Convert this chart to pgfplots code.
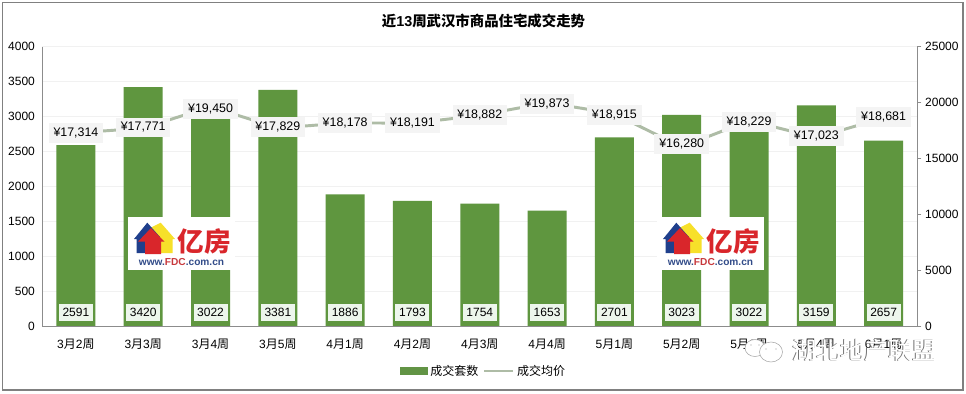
\documentclass[border=0pt]{standalone}
\usepackage{pgfplots}
\pgfplotsset{compat=1.18}
\usepackage{pgfplotstable}
\usepackage{fontspec}
\setmainfont{Liberation Sans}
\newfontfamily\cjk{Noto Sans CJK SC}
\newcommand{\wk}[2]{#1{\cjk 月}#2{\cjk 周}}
\definecolor{bargreen}{HTML}{5F963F}
\definecolor{linegray}{HTML}{AEBCA6}
\definecolor{gridc}{HTML}{F1F1F1}
\definecolor{axc}{HTML}{8C8C8C}
\definecolor{framec}{HTML}{808080}
\definecolor{lblbox}{HTML}{F4F4F4}
\definecolor{barbox}{HTML}{EDF6EC}
\definecolor{logoblue}{HTML}{1F3F8C}
\definecolor{logored}{HTML}{D9262B}
\definecolor{logoyellow}{HTML}{F7E02A}
\pgfplotstableread{
x units label
0 2591 2591
1 3420 3420
2 3022 3022
3 3381 3381
4 1886 1886
5 1793 1793
6 1754 1754
7 1653 1653
8 2701 2701
9 3023 3023
10 3022 3022
11 3159 3159
12 2657 2657
}\unitstable
\pgfplotstableread{
x price label
0 17314 ¥17,314
1 17771 ¥17,771
2 19450 ¥19,450
3 17829 ¥17,829
4 18178 ¥18,178
5 18191 ¥18,191
6 18882 ¥18,882
7 19873 ¥19,873
8 18915 ¥18,915
9 16280 ¥16,280
10 18229 ¥18,229
11 17023 ¥17,023
12 18681 ¥18,681
}\pricetable
\newcommand{\logo}[1]{%
\begin{scope}[shift={(#1,0)}]
\fill[white] (128,217) rectangle (235,270);
\fill[logoyellow] (160.7,222.7) -- (175,239) -- (172.7,239) -- (172.7,253) -- (150,253) -- (150,228) -- cycle;
\fill[logoblue] (147.3,222.7) -- (160,237) -- (158,253) -- (136.7,253) -- (136.7,239) -- (134,239) -- cycle;
\fill[logored] (151,228) -- (164.5,241.7) -- (161,241.7) -- (161,254) -- (145,254) -- (145,241.7) -- (138,241.7) -- cycle;
\node[text=logored,font=\cjk\bfseries\fontsize{20}{21}\selectfont,inner sep=0pt] at (204.5,241.5) {亿房};
\node[text=logoblue!80!gray,font=\bfseries\fontsize{7.6}{8}\selectfont,inner sep=0pt] at (181.5,262) {www.\textcolor{logored!80!gray}{FDC}.com.cn};
\end{scope}}
\begin{document}
\begin{tikzpicture}
\begin{scope}[x=0.75pt,y=-0.75pt]
\path[use as bounding box] (0,0) rectangle (966,393);
\fill[white] (0,0) rectangle (966,393);
\draw[framec,line width=1.1pt] (2.5,2.5) rectangle (963,390);
\end{scope}
\begin{axis}[
  at={(31.7pt,-244.7pt)},anchor=south west,
  scale only axis,width=656.25pt,height=209.7pt,
  xmin=-0.5,xmax=12.5,ymin=0,ymax=4000,
  axis y line*=left,axis x line*=bottom,
  axis line style={axc,line width=0.7pt,-},
  ytick={0,500,...,4000},
  xtick={0,...,12},
  xticklabels={\wk32,\wk33,\wk34,\wk35,\wk41,\wk42,\wk43,\wk44,\wk51,\wk52,\wk53,\wk54,\wk61},
  ymajorgrids,grid style={gridc,line width=0.6pt},
  major tick length=0pt,
  tick label style={font=\fontsize{9}{10}\selectfont,text=black},
  xticklabel style={yshift=-6pt},
  yticklabel style={xshift=-2pt},
  /pgf/number format/assume math mode=true,
  /pgf/number format/1000 sep={},
  scaled y ticks=false,
  legend style={at={(0.505,-0.16)},anchor=center,draw=none,fill=none,legend columns=2,
    font=\cjk\fontsize{9}{10}\selectfont,inner sep=0pt,
    /tikz/every even column/.append style={column sep=1.5pt}},
  legend cell align=left,
]
\addplot[ybar,bar width=29.25pt,fill=bargreen,draw=none,
  legend image code/.code={\fill[bargreen!90!gray] (0,-3pt) rectangle (20.5pt,3pt);}]
  table[x=x,y=units] {\unitstable};
\addlegendentry{成交套数}
\addlegendimage{legend image code/.code={\draw[linegray,line width=1.6pt] (0,0) -- (22pt,0);}}
\addlegendentry{成交均价}
\end{axis}
\begin{axis}[
  at={(31.7pt,-244.7pt)},anchor=south west,
  scale only axis,width=656.25pt,height=209.7pt,
  xmin=-0.5,xmax=12.5,ymin=0,ymax=25000,
  axis y line*=right,axis x line*=bottom,
  axis line style={axc,line width=0.7pt,-},
  xtick=\empty,
  ytick={0,5000,...,25000},
  tick style={axc,line width=0.6pt},
  major tick length=3pt,
  tick align=outside,
  tick label style={font=\fontsize{9}{10}\selectfont,text=black},
  yticklabel style={xshift=-0.6pt},
  /pgf/number format/assume math mode=true,
  /pgf/number format/1000 sep={},
  scaled y ticks=false,
]
\addplot[linegray,line width=2.2pt,smooth,tension=0.3,mark=none,
  nodes near coords,point meta=explicit symbolic,
  nodes near coords style={anchor=center,fill=lblbox,text=black,font=\fontsize{9.3}{10}\selectfont,
    inner xsep=3.6pt,inner ysep=3.6pt,line width=0pt,yshift=0pt}]
  table[x=x,y=price,meta=label] {\pricetable};
% count labels sit in a fixed row near the foot of the bars
\addplot[draw=none,mark=none,
  nodes near coords,point meta=explicit symbolic,
  nodes near coords style={anchor=center,fill=barbox,text=black,font=\fontsize{9}{10}\selectfont,
    minimum width=25.5pt,minimum height=12.5pt,inner sep=0pt}]
  table[x=x,y expr=1250,meta=label] {\unitstable};
\end{axis}
\begin{scope}[x=0.75pt,y=-0.75pt]
\logo{0}
\logo{529}
% watermark
\foreach \dx/\dy/\c in {-0.9/0.9/gray!90!black,0/0/white}{
  \node[text=\c,font=\cjk\fontsize{18}{19}\selectfont,inner sep=0pt] at (864+\dx,350+\dy) {湖北地产联盟};
}
\draw[gray!70,fill=white,line width=0.4pt] (755,348) ellipse (10 and 8.5);
\draw[gray!70,fill=white,line width=0.4pt] (771,352) ellipse (11.5 and 10);
\fill[gray!80] (766,349) circle (0.7) (776,349) circle (0.7) (751,345) circle (0.7) (759,345) circle (0.7);
\end{scope}
\node[font=\cjk\bfseries\fontsize{10.8}{12}\selectfont,text=black,inner sep=0pt] at (362.6pt,-15.5pt) {近{\fontspec{Liberation Sans}\bfseries 13}周武汉市商品住宅成交走势};
\end{tikzpicture}
\end{document}
